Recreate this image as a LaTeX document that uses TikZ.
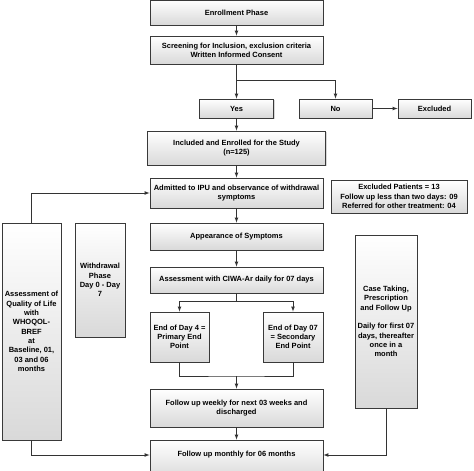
\documentclass[tikz,border=0pt]{standalone}
\usepackage{fontspec}
\setmainfont{Liberation Sans}
\usetikzlibrary{shapes,arrows,shadows}

\begin{document}
\begin{tikzpicture}[x=1pt, y=-1pt,
  box/.style={draw=gray!45!black, line width=0.8pt, top color=white, bottom color=gray!30,
    drop shadow={shadow xshift=1.2pt, shadow yshift=-1.2pt, fill=gray!60, opacity=0.5},
    align=center, inner sep=1pt, font=\bfseries\fontsize{7.5}{9.3}\selectfont},
  line/.style={draw=gray!40!black, line width=0.7pt}]
  \useasboundingbox (0,0) rectangle (474,471);

  % Enrollment
  \node[box, minimum width=173, minimum height=25] (enroll) at (236.5,12.5) {Enrollment Phase};
  \node[box, minimum width=173, minimum height=28] (screen) at (236.5,50) {Screening for Inclusion, exclusion criteria\\Written Informed Consent};

  % Decision
  \node[box, minimum width=74, minimum height=19] (yes) at (236.5,108.5) {Yes};
  \node[box, minimum width=73, minimum height=19] (no) at (335.5,108.5) {No};
  \node[box, minimum width=73, minimum height=19] (excl) at (434.5,108.5) {Excluded};
  \coordinate (split) at (236.5,80);

  % Study
  \node[box, minimum width=178, minimum height=34] (incl) at (236.5,148) {Included and Enrolled for the Study\\(n=125)};
  \node[box, minimum width=173, minimum height=30] (admit) at (236.5,193) {Admitted to IPU and observance of withdrawal\\symptoms};
  \node[box, minimum width=136, minimum height=33] (exclpat) at (399,196.5) {Excluded Patients = 13\\Follow up less than two days: 09\\Referred for other treatment: 04};
  \node[box, minimum width=173, minimum height=27] (appear) at (236.5,236.5) {Appearance of Symptoms};
  \node[box, minimum width=173, minimum height=26] (assess) at (236.5,280) {Assessment with CIWA-Ar daily for 07 days};
  \coordinate (fork) at (236.5,301);

  % End points
  \node[box, minimum width=59, minimum height=50] (day4) at (179.5,337) {End of Day 4 =\\Primary End\\Point};
  \node[box, minimum width=60, minimum height=50] (day7) at (293,337) {End of Day 07\\= Secondary\\End Point};
  \coordinate (merge) at (236.5,376);

  % Follow up
  \node[box, minimum width=173, minimum height=38] (weekly) at (236.5,408) {Follow up weekly for next 03 weeks and\\discharged};
  \node[box, minimum width=173, minimum height=40] (monthly) at (236.5,460) {};
  \node[font=\bfseries\fontsize{7.5}{9.3}\selectfont] (monthlytext) at (236.5,455) {Follow up monthly for 06 months};

  % Side boxes
  \node[box, minimum width=59, minimum height=217] (qol) at (31.5,331.5) {Assessment of\\Quality of Life\\with\\WHOQOL-\\BREF\\at\\Baseline, 01,\\03 and 06\\months};
  \node[box, minimum width=50, minimum height=114] (withdraw) at (100,280) {Withdrawal\\Phase\\Day 0 - Day\\7};
  \node[box, minimum width=62, minimum height=173] (casetake) at (386,321.5) {Case Taking,\\Prescription\\and Follow Up\\[9.3pt]Daily for first 07\\days, thereafter\\once in a\\month};

  % Arrows
  \draw[line, -latex] (enroll) -- (screen);
  \draw[line, -latex] (screen) -- (yes);
  \draw[line, -latex] (split) -| (no);
  \draw[line, -latex] (no) -- (excl);
  \draw[line, -latex] (yes) -- (incl);
  \draw[line, -latex] (incl) -- (admit);
  \draw[line, -latex] (admit) -- (appear);
  \draw[line, -latex] (appear) -- (assess);
  \draw[line] (assess) -- (fork);
  \draw[line, -latex] (fork) -| (day4);
  \draw[line, -latex] (fork) -| (day7);
  \draw[line] (day4) |- (merge) -| (day7);
  \draw[line, -latex] (merge) -- (weekly);
  \draw[line, -latex] (weekly) -- (monthly);
  \draw[line, -latex] (qol.north) |- (admit.west);
  \draw[line, -latex] (qol.south) |- (monthly.west |- monthlytext);
  \draw[line, -latex] (casetake.south) |- (monthly.east |- monthlytext);
\end{tikzpicture}
\end{document}
